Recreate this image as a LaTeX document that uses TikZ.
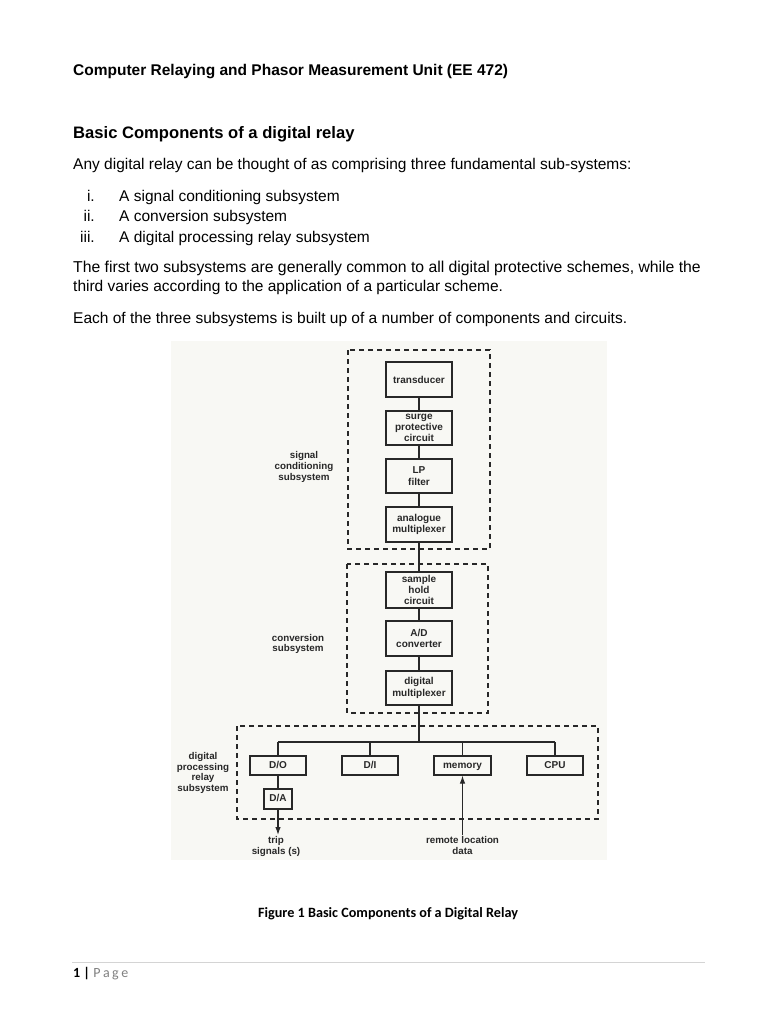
\documentclass[tikz,border=0pt]{standalone}
\usepackage{fontspec}
\setmainfont{Liberation Sans}
\newfontfamily\calibri{Carlito}
\usetikzlibrary{arrows.meta}

\definecolor{scanbg}{RGB}{248,248,244}
\definecolor{inkgray}{RGB}{40,40,40}
\definecolor{rulegray}{RGB}{212,212,212}

\tikzset{
  blk/.style={draw=inkgray, line width=1.1pt, minimum width=66pt, minimum height=35pt, inner sep=0pt, align=center, text=inkgray, font=\fontsize{10}{11.3}\selectfont\bfseries},
  io/.style={blk, minimum width=56pt, minimum height=19pt, text height=7pt, text depth=2pt},
  grp/.style={draw=inkgray, line width=1.2pt, dash pattern=on 5pt off 4pt},
  lbl/.style={align=center, inner sep=1pt, text=inkgray, font=\fontsize{9.8}{10.7}\selectfont\bfseries},
  wire/.style={draw=inkgray, line width=1.1pt},
  txt/.style={anchor=base west, inner sep=0pt, font=\fontsize{15.5}{18}\selectfont}
}

\begin{document}
\begin{tikzpicture}[x=1pt,y=-1pt]
    \useasboundingbox[fill=white] (0,0) rectangle (768,1024);

    % page text
    \node[txt, font=\fontsize{15.5}{18}\selectfont\bfseries] (title) at (73,76) {Computer Relaying and Phasor Measurement Unit (EE 472)};
    \node[txt, font=\fontsize{16.6}{19}\selectfont\bfseries] (head) at (73,139) {Basic Components of a digital relay};
    \node[txt] (intro) at (73,170) {Any digital relay can be thought of as comprising three fundamental sub-systems:};
    \node[txt, anchor=base east] (n1) at (95,202) {i.};
    \node[txt, anchor=base east] (n2) at (95,222) {ii.};
    \node[txt, anchor=base east] (n3) at (95,242) {iii.};
    \node[txt] (item1) at (119,202) {A signal conditioning subsystem};
    \node[txt] (item2) at (119,222) {A conversion subsystem};
    \node[txt] (item3) at (119,242) {A digital processing relay subsystem};
    \node[txt, font=\fontsize{15.75}{18}\selectfont] (para1) at (73,272) {The first two subsystems are generally common to all digital protective schemes, while the};
    \node[txt] (para2) at (73,291) {third varies according to the application of a particular scheme.};
    \node[txt] (para3) at (73,323) {Each of the three subsystems is built up of a number of components and circuits.};

    % scanned figure
    \fill[scanbg] (171,341) rectangle (607,860);

    \draw[grp] (348,350) rectangle (490,549);
    \draw[grp] (347,564) rectangle (488,713);
    \draw[grp] (237,726) rectangle (598,819);

    \node[blk] (trans) at (419,379.5) {transducer};
    \node[blk, minimum height=34pt] (surge) at (419,428) {surge\\protective\\circuit};
    \node[blk, minimum height=34pt] (lpf) at (419,476) {LP\\filter};
    \node[blk] (amux) at (419,524.5) {analogue\\multiplexer};
    \node[blk, minimum height=36pt] (sh) at (419,590) {sample\\hold\\circuit};
    \node[blk] (adc) at (419,638.5) {A/D\\converter};
    \node[blk, minimum height=34pt] (dmux) at (419,688) {digital\\multiplexer};

    \node[io] (dout) at (278,765.5) {D/O};
    \node[io] (din) at (370,765.5) {D/I};
    \node[io, minimum width=57pt] (mem) at (462.5,765.5) {memory};
    \node[io] (cpu) at (555,765.5) {CPU};
    \node[io, minimum width=28pt, minimum height=20pt] (dac) at (278,799) {D/A};

    \node[lbl] (sigl) at (304,467) {signal\\conditioning\\subsystem};
    \node[lbl] (convl) at (298,644) {conversion\\subsystem};
    \node[lbl] (procl) at (203,773) {digital\\processing\\relay\\subsystem};
    \node[lbl, anchor=north] (trip) at (276,835) {trip\\signals (s)};
    \node[lbl, anchor=north] (remote) at (462.5,835) {remote location\\data};

    \coordinate (bus) at (419,742);

    \draw[wire] (trans) -- (surge);
    \draw[wire] (surge) -- (lpf);
    \draw[wire] (lpf) -- (amux);
    \draw[wire] (amux) -- (sh);
    \draw[wire] (sh) -- (adc);
    \draw[wire] (adc) -- (dmux);
    \draw[wire] (dmux) -- (bus);
    \draw[wire] (dout.north |- bus) -- (cpu.north |- bus);
    \draw[wire] (dout.north |- bus) -- (dout);
    \draw[wire] (din.north |- bus) -- (din);
    \draw[wire] (mem.north |- bus) -- (mem);
    \draw[wire] (cpu.north |- bus) -- (cpu);
    \draw[wire] (dout) -- (dac);
    \draw[wire, -{Latex[length=8pt,width=5.5pt]}] (dac) -- (dac |- trip.north);
    \draw[wire, -{Latex[length=8pt,width=5.5pt]}] (remote.north) -- (mem);

    % caption and footer
    \node[anchor=base, inner sep=0pt, font=\calibri\bfseries\fontsize{14.2}{16}\selectfont] (cap) at (388,917) {Figure 1 Basic Components of a Digital Relay};
    \draw[rulegray, line width=0.8pt] (72,962) -- (705,962);
    \node[anchor=base west, inner sep=0pt, font=\calibri\fontsize{14}{16}\selectfont] (pg) at (73,977) {\textbf{1 |} {\color{gray}P\hspace{2.5pt}a\hspace{2.5pt}g\hspace{2.5pt}e}};
\end{tikzpicture}
\end{document}
